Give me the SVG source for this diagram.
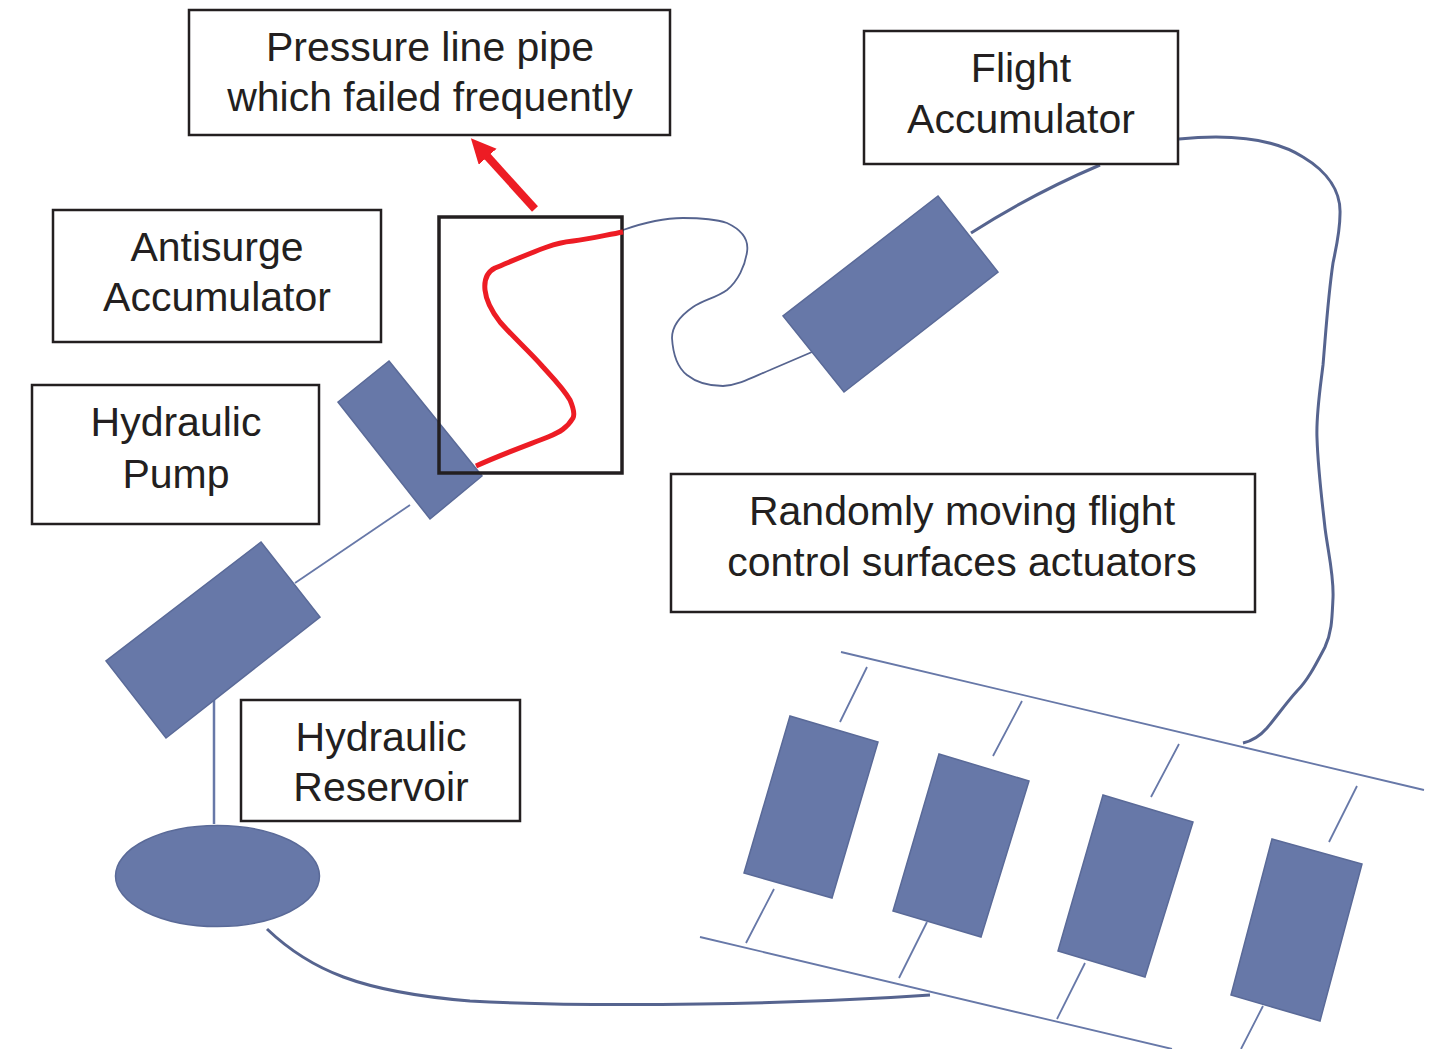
<svg xmlns="http://www.w3.org/2000/svg" width="1434" height="1049" viewBox="0 0 1434 1049">
<style>
.b{fill:#fff;stroke:#231f20;stroke-width:2.5}
.t{font-family:"Liberation Sans",Arial,sans-serif;font-size:41px;fill:#231f20;text-anchor:middle}
.s{fill:#6778a8;stroke:#5a6a98;stroke-width:1.5}
.l{fill:none;stroke:#6778a8;stroke-width:1.8}
.d{fill:none;stroke:#56648f;stroke-width:3}
.n{fill:none;stroke:#56648f;stroke-width:1.8}
</style>
<defs><marker id="a" markerUnits="userSpaceOnUse" markerWidth="28" markerHeight="26" refX="1" refY="12" orient="auto"><path d="M0 0L25 12L0 24z" fill="#ed1c24"/></marker></defs>
<rect width="1434" height="1049" fill="#fff"/>
<g id="connectors">
<path class="l" d="M410 505L295 583"/>
<path fill="none" stroke="#6778a8" stroke-width="2.500" d="M214 700V824"/>
<path class="d" d="M267 929C310 970 360 992 470 1001C600 1008 800 1004 930 995"/>
<path class="n" d="M623 230C640 224 660 218 683 218C700 218 715 219 727 223C742 230 749 240 747 252C745 266 738 281 727 290C716 298 703 300 693 307C680 316 672 326 672 338C673 355 678 368 687 375C697 383 710 386 723 386C740 385 755 376 770 370L812 352"/>
<path class="d" d="M971 233C1010 208 1060 182 1100 165"/>
<path class="d" d="M1179 139C1220 135 1270 136 1303 157C1328 172 1341 192 1340 214C1340 232 1336 248 1333 263C1328 297 1326 330 1323 365C1320 390 1316 415 1317 438C1318 470 1322 500 1325 528C1328 552 1334 575 1333 598C1332 618 1332 632 1325 647C1316 664 1308 680 1297 691C1287 702 1277 716 1267 728C1260 736 1252 741 1243 743"/>
<path class="l" d="M841 652L1424 790M700 937L1172 1049"/>
<path class="l" d="M867 667L840 722M1022 701L993 756M1179 744L1151 797M1357 786L1329 842M774 889L746 943M927 922L899 978M1085 963L1057 1019M1263 1006L1241 1049"/>
<path fill="none" stroke="#ed1c24" stroke-width="8" marker-end="url(#a)" d="M535 209L487 156"/>
</g>
<g id="pressure-label"><rect class="b" x="189" y="10" width="481" height="125"/><text class="t" x="430" y="61">Pressure line pipe</text><text class="t" x="430" y="111">which failed frequently</text></g>
<g id="flight-accumulator-label"><rect class="b" x="864" y="31" width="314" height="133"/><text class="t" x="1021" y="82">Flight</text><text class="t" x="1021" y="133">Accumulator</text></g>
<g id="antisurge-label"><rect class="b" x="53" y="210" width="328" height="132"/><text class="t" x="217" y="261">Antisurge</text><text class="t" x="217" y="311">Accumulator</text></g>
<g id="pump-label"><rect class="b" x="32" y="385" width="287" height="139"/><text class="t" x="176" y="436">Hydraulic</text><text class="t" x="176" y="488">Pump</text></g>
<g id="reservoir-label"><rect class="b" x="241" y="700" width="279" height="121"/><text class="t" x="381" y="751">Hydraulic</text><text class="t" x="381" y="801">Reservoir</text></g>
<g id="actuators-label"><rect class="b" x="671" y="474" width="584" height="138"/><text class="t" x="962" y="525">Randomly moving flight</text><text class="t" x="962" y="576">control surfaces actuators</text></g>
<g id="pump"><path class="s" d="M389 361L482 476L430 519L338 402z"/></g>
<g id="motor"><path class="s" d="M261 542L320 617L166 738L106 661z"/></g>
<g id="flight-accumulator"><path class="s" d="M938 196L998 272L844 392L783 316z"/></g>
<g id="reservoir"><ellipse class="s" cx="217.500" cy="876" rx="102" ry="50.500"/></g>
<g id="actuator-1"><path class="s" d="M790 716L878 742L832 898L744 873z"/></g>
<g id="actuator-2"><path class="s" d="M939 754L1029 781L981 937L893 911z"/></g>
<g id="actuator-3"><path class="s" d="M1103 795L1193 822L1145 977L1058 951z"/></g>
<g id="actuator-4"><path class="s" d="M1272 839L1362 864L1320 1021L1231 995z"/></g>
<g id="failed-pipe-box"><rect x="439" y="217" width="183" height="256" fill="none" stroke="#231f20" stroke-width="3.500"/>
<path fill="none" stroke="#ed1c24" stroke-width="5" d="M623 232C606 235 590 239 573 241C563 242 555 244 547 247C530 253 512 261 495 268C487 272 484 280 485 290C486 300 493 313 500 322C513 337 530 352 543 367C553 378 563 388 570 400C573 407 575 414 573 418C567 428 560 432 548 437C525 446 500 455 476 466"/></g>
</svg>
